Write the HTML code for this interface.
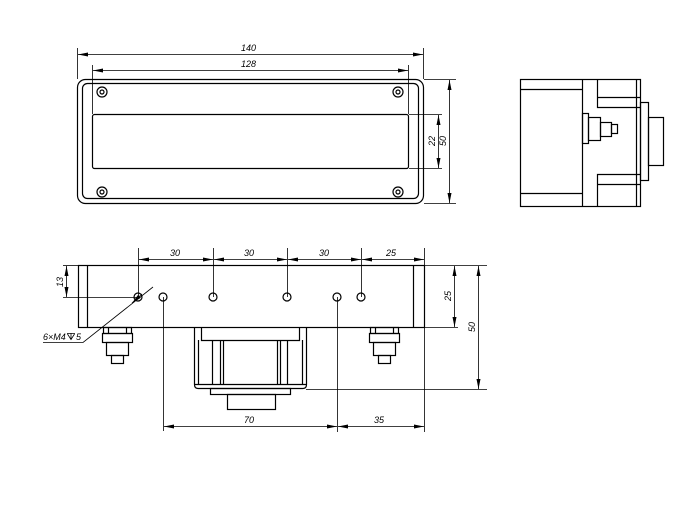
<!DOCTYPE html>
<html><head><style>
html,body{margin:0;padding:0;background:#fff;}
svg text{font-family:"Liberation Sans",sans-serif;font-style:italic;font-size:9px;fill:#000;}
</style></head><body>
<svg width="700" height="500" viewBox="0 0 700 500" xmlns="http://www.w3.org/2000/svg">
<defs>
<marker id="a" viewBox="0 0 10 4" refX="10" refY="2" markerWidth="10" markerHeight="4" markerUnits="userSpaceOnUse" orient="auto-start-reverse"><path d="M0,0 L10,2 L0,4 z" fill="#000"/></marker>
</defs>
<g fill="none" stroke="#000" stroke-width="1.2">
<!-- TOP VIEW -->
<rect x="77.5" y="79.5" width="346" height="124" rx="8"/>
<rect x="82.5" y="83.5" width="336" height="115" rx="5"/>
<rect x="92.5" y="114.5" width="316" height="54" rx="2"/>
<circle cx="102" cy="92" r="5"/><circle cx="102" cy="92" r="2"/>
<circle cx="398" cy="92" r="5"/><circle cx="398" cy="92" r="2"/>
<circle cx="102" cy="192" r="5"/><circle cx="102" cy="192" r="2"/>
<circle cx="398" cy="192" r="5"/><circle cx="398" cy="192" r="2"/>
<g stroke-width="0.8">
<line x1="77.5" y1="48" x2="77.5" y2="79"/><line x1="423.5" y1="48" x2="423.5" y2="79"/>
<line x1="78" y1="54.5" x2="423" y2="54.5" marker-start="url(#a)" marker-end="url(#a)"/>
<line x1="92.5" y1="65" x2="92.5" y2="114"/><line x1="408.5" y1="65" x2="408.5" y2="114"/>
<line x1="93" y1="70.5" x2="408" y2="70.5" marker-start="url(#a)" marker-end="url(#a)"/>
<line x1="409" y1="114.5" x2="442" y2="114.5"/><line x1="409" y1="168.5" x2="442" y2="168.5"/>
<line x1="438.5" y1="115" x2="438.5" y2="168" marker-start="url(#a)" marker-end="url(#a)"/>
<line x1="424" y1="79.5" x2="456" y2="79.5"/><line x1="424" y1="203.5" x2="456" y2="203.5"/>
<line x1="449.5" y1="80" x2="449.5" y2="203" marker-start="url(#a)" marker-end="url(#a)"/>
</g>
<!-- SIDE VIEW -->
<rect x="520.5" y="79.5" width="120" height="127"/>
<line x1="520" y1="89.5" x2="582" y2="89.5"/><line x1="520" y1="193.5" x2="582" y2="193.5"/>
<line x1="582.5" y1="79" x2="582.5" y2="206"/>
<path d="M597.5 79 V107.5 H640 M597.5 97.5 H640 M597.5 206 V174.5 H640 M597.5 184.5 H640"/>
<line x1="636.5" y1="79" x2="636.5" y2="206"/>
<rect x="640.5" y="102.5" width="8" height="78"/>
<rect x="648.5" y="117.5" width="15" height="48"/>
<rect x="582.5" y="113.5" width="6" height="30"/>
<rect x="588.5" y="117.5" width="12" height="23"/>
<rect x="600.5" y="122.5" width="11" height="14"/>
<rect x="611.5" y="124.5" width="6" height="9"/>
<!-- FRONT VIEW -->
<rect x="78.5" y="265.5" width="346" height="62"/>
<line x1="87.5" y1="265" x2="87.5" y2="327"/><line x1="413.5" y1="265" x2="413.5" y2="327"/>
<circle cx="138" cy="297" r="4"/><circle cx="163" cy="297" r="4"/><circle cx="213" cy="297" r="4"/>
<circle cx="287" cy="297" r="4"/><circle cx="337" cy="297" r="4"/><circle cx="361" cy="297" r="4"/>
<!-- connector -->
<path d="M194.5 327 V384.5 Q194.5 388.5 198 388.5 H303 Q306.5 388.5 306.5 384.5 V327"/>
<path d="M201.5 327 V340.5 H299.5 V327"/>
<line x1="194" y1="384.5" x2="306" y2="384.5"/>
<path d="M198.5 340 V384 M212.5 340 V384 M220.5 340 V384 M223.5 340 V384 M277.5 340 V384 M280.5 340 V384 M287.5 340 V384 M302.5 340 V384"/>
<rect x="210.5" y="388.5" width="80" height="6"/>
<rect x="227.5" y="394.5" width="48" height="15"/>
<!-- terminals -->
<g id="t">
<rect x="103.5" y="327.5" width="28" height="6"/>
<line x1="108.5" y1="327" x2="108.5" y2="333"/><line x1="126.5" y1="327" x2="126.5" y2="333"/>
<rect x="102.5" y="333.5" width="30" height="9"/>
<rect x="106.5" y="342.5" width="22" height="13"/>
<rect x="111.5" y="355.5" width="12" height="8"/>
</g>
<use href="#t" transform="translate(267,0)"/>
<!-- dims -->
<g stroke-width="0.8">
<line x1="138.5" y1="248" x2="138.5" y2="297"/><line x1="213.5" y1="248" x2="213.5" y2="297"/>
<line x1="287.5" y1="248" x2="287.5" y2="297"/><line x1="361.5" y1="248" x2="361.5" y2="297"/>
<line x1="424.5" y1="248" x2="424.5" y2="265"/>
<line x1="139" y1="259.5" x2="213" y2="259.5" marker-start="url(#a)" marker-end="url(#a)"/>
<line x1="214" y1="259.5" x2="287" y2="259.5" marker-start="url(#a)" marker-end="url(#a)"/>
<line x1="288" y1="259.5" x2="361" y2="259.5" marker-start="url(#a)" marker-end="url(#a)"/>
<line x1="362" y1="259.5" x2="424" y2="259.5" marker-start="url(#a)" marker-end="url(#a)"/>
<line x1="63" y1="265.5" x2="78" y2="265.5"/><line x1="63" y1="297.5" x2="138" y2="297.5"/>
<line x1="66.5" y1="266" x2="66.5" y2="297" marker-start="url(#a)" marker-end="url(#a)"/>
<line x1="425" y1="265.5" x2="487" y2="265.5"/><line x1="425" y1="327.5" x2="458" y2="327.5"/>
<line x1="306" y1="389.5" x2="487" y2="389.5"/>
<line x1="454.5" y1="266" x2="454.5" y2="327" marker-start="url(#a)" marker-end="url(#a)"/>
<line x1="478.5" y1="266" x2="478.5" y2="389" marker-start="url(#a)" marker-end="url(#a)"/>
<line x1="163.5" y1="297" x2="163.5" y2="431"/><line x1="337.5" y1="297" x2="337.5" y2="432"/>
<line x1="424.5" y1="327" x2="424.5" y2="432"/>
<line x1="164" y1="426.5" x2="337" y2="426.5" marker-start="url(#a)" marker-end="url(#a)"/>
<line x1="338" y1="426.5" x2="424" y2="426.5" marker-start="url(#a)" marker-end="url(#a)"/>
<polyline points="153,287 83,342.5 43,342.5"/>
<line x1="132" y1="303" x2="142" y2="294" marker-start="url(#a)"/>
<path d="M67 333.5 H75 M67.5 334 L71 339.5 L74.5 334 M71 333 V340"/>
</g>
</g>
<text x="241" y="51">140</text>
<text x="241" y="67">128</text>
<text transform="translate(435,146) rotate(-90)">22</text>
<text transform="translate(446,146) rotate(-90)">50</text>
<text x="170" y="256">30</text>
<text x="244" y="256">30</text>
<text x="319" y="256">30</text>
<text x="386" y="256">25</text>
<text transform="translate(63,287) rotate(-90)">13</text>
<text transform="translate(451,301) rotate(-90)">25</text>
<text transform="translate(475,332) rotate(-90)">50</text>
<text x="244" y="423">70</text>
<text x="374" y="423">35</text>
<text x="43" y="340">6×M4</text>
<text x="76" y="340">5</text>
</svg>
</body></html>
